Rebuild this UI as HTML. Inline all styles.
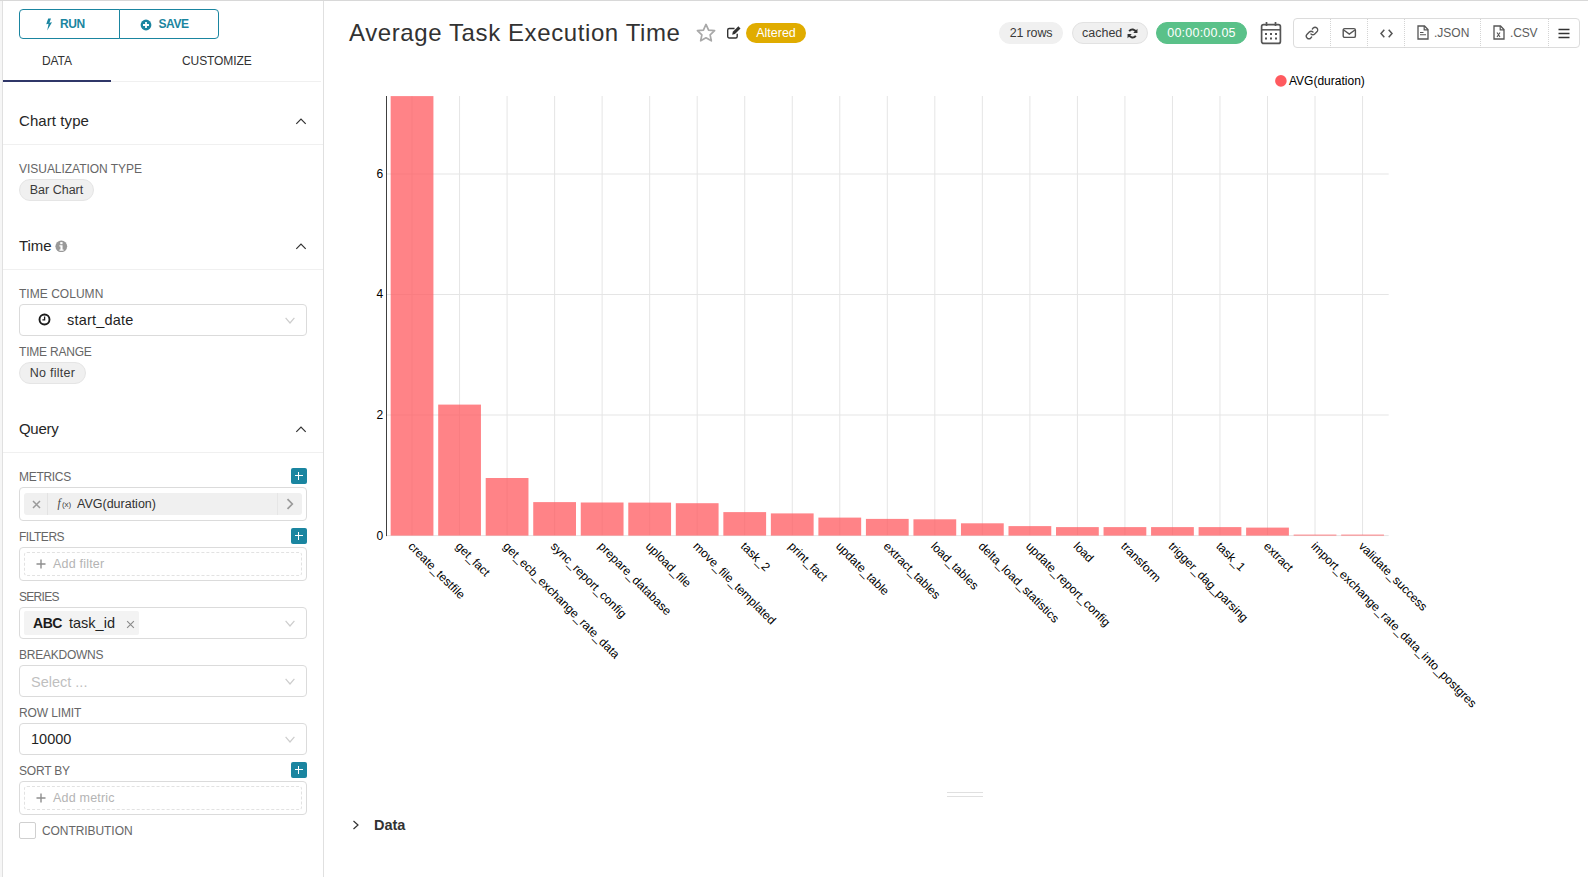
<!DOCTYPE html>
<html lang="en">
<head>
<meta charset="utf-8">
<title>Average Task Execution Time</title>
<style>
*{box-sizing:border-box;margin:0;padding:0}
html,body{width:1588px;height:877px;overflow:hidden;background:#fff}
body{font-family:"Liberation Sans",sans-serif;color:#323232;position:relative;font-size:14px}
.abs{position:absolute}
.topline{position:absolute;left:0;top:0;width:1588px;height:1px;background:#d8d8d8}
.side{position:absolute;left:2px;top:1px;width:322px;height:876px;border-left:1px solid #e0e0e0;border-right:1px solid #e0e0e0;background:#fff}
.btn{position:absolute;top:9px;height:30px;width:100px;border:1px solid #1a85a0;color:#1a85a0;font-weight:bold;font-size:12px;letter-spacing:-.4px;background:#fff}
.btn span{position:absolute;top:7px;line-height:14px}
.tab{position:absolute;top:54px;font-size:12px;color:#323232;line-height:14px;letter-spacing:-.1px}
.tabline{position:absolute;left:3px;top:81px;width:318px;height:1px;background:#f0f0f0}
.ink{position:absolute;left:3px;top:80px;width:108px;height:2px;background:#2f3668}
.sec{position:absolute;left:19px;font-size:15px;color:#262626;line-height:18px}
.secline{position:absolute;left:3px;width:320px;height:1px;background:#f0f0f0}
.lbl{position:absolute;left:19px;font-size:12px;color:#666;line-height:14px;letter-spacing:0;white-space:nowrap}
.pill{position:absolute;height:22px;border-radius:11px;background:#f0f0f0;border:1px solid #e5e5e5;font-size:12.5px;line-height:21px;color:#3a3a3a;text-align:center;white-space:nowrap}
.box{position:absolute;left:19px;width:288px;border:1px solid #dbdbdb;border-radius:4px;background:#fff}
.plus{position:absolute;left:291px;width:15.5px;height:15.5px;border-radius:2px;background:#1a85a0}
.plus:before{content:"";position:absolute;left:3.5px;top:6.75px;width:8px;height:1.5px;background:#fff}
.plus:after{content:"";position:absolute;left:6.75px;top:3.5px;width:1.5px;height:8px;background:#fff}
.chev{position:absolute;left:295px;width:12px;height:8px}
.dd{position:absolute;right:10px;top:11px;width:12px;height:9px}
.t{font-family:"Liberation Sans",Arial,sans-serif;font-size:12px;fill:#000}
.chart{position:absolute;left:0;top:0}
.hbtn{position:absolute;top:0;height:29px;border-right:1px dotted #d4d4d4}
</style>
</head>
<body>
<div class="topline"></div>
<div class="abs" style="left:0;top:1px;width:2px;height:876px;background:#f6f6f6"></div>
<div class="side"></div>

<!-- run / save -->
<div class="btn" style="left:19px;width:101px;border-radius:4px 0 0 4px;"><svg class="abs" style="left:25px;top:8px" width="8" height="13" viewBox="0 0 8 13"><path d="M3.2 0.5 L1.2 6.3 L3.6 5.7 L2.2 12.5 L7 4.2 L4.4 4.8 L6 0.5 Z" fill="#1a85a0"/></svg><span style="left:40px">RUN</span></div>
<div class="btn" style="left:119px;width:100px;border-radius:0 4px 4px 0"><svg class="abs" style="left:20px;top:9px" width="12" height="12" viewBox="0 0 12 12"><circle cx="6" cy="6" r="5.4" fill="#1a85a0"/><path d="M6 3v6M3 6h6" stroke="#fff" stroke-width="1.8"/></svg><span style="left:38.5px">SAVE</span></div>

<!-- tabs -->
<div class="tab" style="left:42px">DATA</div>
<div class="tab" style="left:182px">CUSTOMIZE</div>
<div class="tabline"></div>
<div class="ink"></div>

<!-- Chart type -->
<div class="sec" style="top:112px;letter-spacing:.08px">Chart type</div>
<svg class="chev" style="top:117px" viewBox="0 0 12 8"><path d="M1.3 6.8 L6 2 L10.7 6.8" fill="none" stroke="#323232" stroke-width="1.2"/></svg>
<div class="secline" style="top:144px"></div>
<div class="lbl" style="top:162px;letter-spacing:-0.03px">VISUALIZATION TYPE</div>
<div class="pill" style="left:19px;top:179px;width:75px">Bar Chart</div>

<!-- Time -->
<div class="sec" style="top:237px;letter-spacing:-.1px">Time</div>
<svg class="abs" style="left:55px;top:239.7px" width="12.6" height="12.6" viewBox="0 0 12 12"><circle cx="6" cy="6" r="5.6" fill="#999"/><rect x="5" y="2" width="2.2" height="2" fill="#fff"/><path d="M4.2 5h3v4h1v1.2H4.2V9h1V6.2h-1z" fill="#fff"/></svg>
<svg class="chev" style="top:242px" viewBox="0 0 12 8"><path d="M1.3 6.8 L6 2 L10.7 6.8" fill="none" stroke="#323232" stroke-width="1.2"/></svg>
<div class="secline" style="top:269px"></div>
<div class="lbl" style="top:287px;letter-spacing:0.03px">TIME COLUMN</div>
<div class="box" style="top:304px;height:32px">
  <svg class="abs" style="left:18.2px;top:8.3px" width="13" height="13" viewBox="0 0 13 13"><circle cx="6.5" cy="6.5" r="5" fill="none" stroke="#1b1b1b" stroke-width="1.9"/><path d="M6.6 3.6v3.2H4.4" fill="none" stroke="#1b1b1b" stroke-width="1.3"/></svg>
  <span class="abs" style="left:47px;top:7px;font-size:14.5px;line-height:17px;color:#1f1f1f;letter-spacing:.2px">start_date</span>
  <svg class="dd" viewBox="0 0 12 9"><path d="M1.6 1.8 L6 7 L10.4 1.8" fill="none" stroke="#cdcdcd" stroke-width="1.2"/></svg>
</div>
<div class="lbl" style="top:345px;letter-spacing:-0.2px">TIME RANGE</div>
<div class="pill" style="left:19px;top:362px;width:67px;letter-spacing:.25px">No filter</div>

<!-- Query -->
<div class="sec" style="top:420px;letter-spacing:-.3px">Query</div>
<svg class="chev" style="top:425px" viewBox="0 0 12 8"><path d="M1.3 6.8 L6 2 L10.7 6.8" fill="none" stroke="#323232" stroke-width="1.2"/></svg>
<div class="secline" style="top:452px"></div>

<div class="lbl" style="top:470px;letter-spacing:-0.3px">METRICS</div>
<div class="plus" style="top:468px"></div>
<div class="box" style="top:487px;height:34px">
  <div class="abs" style="left:4px;top:5px;width:278px;height:22px;background:#f0f0f0;border-radius:3px"></div>
  <div class="abs" style="left:27px;top:5px;width:1px;height:22px;background:#e3e3e3"></div>
  <div class="abs" style="left:257px;top:5px;width:1px;height:22px;background:#e6e6e6"></div>
  <svg class="abs" style="left:12px;top:12px" width="9" height="9" viewBox="0 0 9 9"><path d="M1 1L8 8M8 1L1 8" stroke="#9a9a9a" stroke-width="1.5"/></svg>
  <span class="abs" style="left:37.5px;top:9px;font-size:11.5px;line-height:12px;color:#444;font-style:italic;font-family:'Liberation Serif',serif">f</span>
  <span class="abs" style="left:42px;top:11.5px;font-size:8px;line-height:9px;color:#444;letter-spacing:-.1px">(x)</span>
  <span class="abs" style="left:57px;top:9px;font-size:12.5px;line-height:15px;color:#323232">AVG(duration)</span>
  <svg class="abs" style="left:266px;top:10px" width="8" height="12" viewBox="0 0 8 12"><path d="M1.5 1.2L6.3 6L1.5 10.8" fill="none" stroke="#9a9a9a" stroke-width="1.7"/></svg>
</div>

<div class="lbl" style="top:530px;letter-spacing:-0.48px">FILTERS</div>
<div class="plus" style="top:528px"></div>
<div class="box" style="top:547px;height:34px">
  <div class="abs" style="left:4px;top:4px;width:278px;height:24px;border:1px dashed #e2e2e2;border-radius:3px"></div>
  <svg class="abs" style="left:16px;top:11px" width="10" height="10" viewBox="0 0 10 10"><path d="M5 0.5v9M0.5 5h9" stroke="#8e8e8e" stroke-width="1.4"/></svg>
  <span class="abs" style="left:33px;top:9px;font-size:12.5px;line-height:15px;color:#b4b4b4;letter-spacing:.2px">Add filter</span>
</div>

<div class="lbl" style="top:590px;letter-spacing:-0.7px">SERIES</div>
<div class="box" style="top:607px;height:32px">
  <div class="abs" style="left:4px;top:3px;width:115px;height:24px;background:#f3f3f3;border-radius:2px"></div>
  <span class="abs" style="left:13px;top:7px;font-size:14px;line-height:17px;color:#1b1b1b;font-weight:bold;letter-spacing:-.45px">ABC</span>
  <span class="abs" style="left:49px;top:7px;font-size:14.5px;line-height:17px;color:#1f1f1f">task_id</span>
  <svg class="abs" style="left:105.5px;top:11.5px" width="9" height="9" viewBox="0 0 8 8"><path d="M1 1L7 7M7 1L1 7" stroke="#8a8a8a" stroke-width="1"/></svg>
  <svg class="dd" viewBox="0 0 12 9"><path d="M1.6 1.8 L6 7 L10.4 1.8" fill="none" stroke="#cdcdcd" stroke-width="1.2"/></svg>
</div>

<div class="lbl" style="top:648px;letter-spacing:-0.24px">BREAKDOWNS</div>
<div class="box" style="top:665px;height:32px">
  <span class="abs" style="left:11px;top:8px;font-size:14.5px;line-height:17px;color:#bfbfbf">Select ...</span>
  <svg class="dd" viewBox="0 0 12 9"><path d="M1.6 1.8 L6 7 L10.4 1.8" fill="none" stroke="#cdcdcd" stroke-width="1.2"/></svg>
</div>

<div class="lbl" style="top:706px;letter-spacing:-0.13px">ROW LIMIT</div>
<div class="box" style="top:723px;height:32px">
  <span class="abs" style="left:11px;top:7px;font-size:14.5px;line-height:17px;color:#1f1f1f">10000</span>
  <svg class="dd" viewBox="0 0 12 9"><path d="M1.6 1.8 L6 7 L10.4 1.8" fill="none" stroke="#cdcdcd" stroke-width="1.2"/></svg>
</div>

<div class="lbl" style="top:764px;letter-spacing:-0.2px">SORT BY</div>
<div class="plus" style="top:762px"></div>
<div class="box" style="top:781px;height:34px">
  <div class="abs" style="left:4px;top:4px;width:278px;height:24px;border:1px dashed #e2e2e2;border-radius:3px"></div>
  <svg class="abs" style="left:16px;top:11px" width="10" height="10" viewBox="0 0 10 10"><path d="M5 0.5v9M0.5 5h9" stroke="#8e8e8e" stroke-width="1.4"/></svg>
  <span class="abs" style="left:33px;top:9px;font-size:12.5px;line-height:15px;color:#b4b4b4;letter-spacing:.2px">Add metric</span>
</div>

<div class="abs" style="left:19px;top:822px;width:17px;height:17px;border:1px solid #d0d0d0;border-radius:2px;background:#fff"></div>
<div class="lbl" style="left:42px;top:824px;letter-spacing:-0.07px">CONTRIBUTION</div>

<!-- header -->
<div class="abs" style="left:349px;top:17.8px;font-size:24px;line-height:30px;color:#323232;white-space:nowrap;letter-spacing:.6px">Average Task Execution Time</div>
<svg class="abs" style="left:695px;top:22px" width="22" height="22" viewBox="0 0 20 20"><path d="M10 2.2l2.35 5.1 5.45.6-4.05 3.75 1.1 5.45L10 14.35 5.15 17.1l1.1-5.45L2.2 7.9l5.45-.6z" fill="none" stroke="#a8a8a8" stroke-width="1.55" stroke-linejoin="round"/></svg>
<svg class="abs" style="left:725.6px;top:25.2px" width="16" height="15" viewBox="0 0 15 14"><path d="M10.5 8.2v2.6a1.4 1.4 0 0 1-1.4 1.4H3a1.4 1.4 0 0 1-1.4-1.4V4.7A1.4 1.4 0 0 1 3 3.3h5" fill="none" stroke="#323232" stroke-width="1.3"/><path d="M11.6 1.2l2 2-5.2 5.2-2.6.6.6-2.6z" fill="#323232"/></svg>
<div class="pill" style="left:746px;top:23px;width:60px;height:20px;border:0;line-height:21px;background:#e0ac00;color:#fff;font-size:12.5px">Altered</div>

<div class="pill" style="left:999px;top:22px;width:64px;border-color:#f0f0f0;letter-spacing:-.15px">21 rows</div>
<div class="pill" style="left:1072px;top:22px;width:76px;border-color:#e2e2e2;text-align:left;padding-left:9px">cached<svg class="abs" style="left:54px;top:5px" width="11" height="11" viewBox="0 0 12 12"><path d="M10 4.8A4.2 4.2 0 0 0 2.4 3.6M2 7.2a4.2 4.2 0 0 0 7.6 1.2" fill="none" stroke="#323232" stroke-width="2.1"/><path d="M11.4 0.8v4.6H6.8zM0.6 11.2V6.6h4.6z" fill="#323232"/></svg></div>
<div class="pill" style="left:1156px;top:22px;width:91px;background:#5ac189;border-color:#5ac189;color:#fff;font-size:12.5px;letter-spacing:.22px">00:00:00.05</div>

<!-- calendar -->
<svg class="abs" style="left:1260px;top:21px" width="22" height="24" viewBox="0 0 22 24"><rect x="1.6" y="3.6" width="18.8" height="18.8" rx="2" fill="none" stroke="#555" stroke-width="1.7"/><path d="M1.6 8.8h18.8" stroke="#555" stroke-width="1.5"/><path d="M6.5 1v4M15.5 1v4" stroke="#555" stroke-width="1.7"/><g fill="#555"><rect x="5" y="12" width="2" height="2"/><rect x="10" y="12" width="2" height="2"/><rect x="15" y="12" width="2" height="2"/><rect x="5" y="16.5" width="2" height="2"/><rect x="10" y="16.5" width="2" height="2"/><rect x="15" y="16.5" width="2" height="2"/></g></svg>

<!-- button group -->
<div class="abs" style="left:1293px;top:18px;width:287px;height:30px;border:1px solid #dcdcdc;border-radius:4px;background:#fff;font-size:12.5px;color:#5c5c5c">
  <div class="hbtn" style="left:0;width:37px"><svg class="abs" style="left:11px;top:7px" width="14" height="14" viewBox="0 0 14 14"><g fill="none" stroke="#555" stroke-width="1.4" stroke-linecap="round"><path d="M6 8a2.6 2.6 0 0 0 3.7 0l2.2-2.2a2.6 2.6 0 0 0-3.7-3.7L7.4 2.9"/><path d="M8 6a2.6 2.6 0 0 0-3.7 0L2.1 8.2a2.6 2.6 0 0 0 3.7 3.7l.8-.8"/></g></svg></div>
  <div class="hbtn" style="left:37px;width:37px"><svg class="abs" style="left:11px;top:8px" width="15" height="12" viewBox="0 0 15 12"><rect x="1.2" y="1.6" width="12.2" height="8.8" rx="1.5" fill="none" stroke="#555" stroke-width="1.4"/><path d="M1.7 3l5.6 4.1L12.9 3" fill="none" stroke="#555" stroke-width="1.4"/></svg></div>
  <div class="hbtn" style="left:74px;width:37px"><svg class="abs" style="left:12px;top:10px" width="13" height="9" viewBox="0 0 13 9"><path d="M4.3 0.8L1 4.5l3.3 3.7M8.7 0.8L12 4.5 8.7 8.2" fill="none" stroke="#555" stroke-width="1.5"/></svg></div>
  <div class="hbtn" style="left:111px;width:76px"><svg class="abs" style="left:11.5px;top:5.5px" width="12" height="15" viewBox="0 0 12 15"><path d="M1 1h6.5L11 4.5V14H1z" fill="none" stroke="#555" stroke-width="1.3"/><path d="M7.2 1v3.8H11" fill="none" stroke="#555" stroke-width="1.2"/><path d="M3 7.5h3.5M3 9.8h6" stroke="#555" stroke-width="1.1"/></svg><span class="abs" style="left:29px;top:7px;line-height:15px;font-size:12px">.JSON</span></div>
  <div class="hbtn" style="left:187px;width:68px"><svg class="abs" style="left:11.5px;top:5.5px" width="12" height="15" viewBox="0 0 12 15"><path d="M1 1h6.5L11 4.5V14H1z" fill="none" stroke="#555" stroke-width="1.3"/><path d="M7.2 1v3.8H11" fill="none" stroke="#555" stroke-width="1.2"/><path d="M4 7.5l3 4.5M7 7.5l-3 4.5" stroke="#555" stroke-width="1.1"/></svg><span class="abs" style="left:29px;top:7px;line-height:15px;font-size:12px;letter-spacing:-.15px">.CSV</span></div>
  <svg class="abs" style="left:264px;top:9px" width="12" height="11" viewBox="0 0 12 11"><path d="M0.5 1.5h11M0.5 5.5h11M0.5 9.5h11" stroke="#323232" stroke-width="1.7"/></svg>
</div>

<svg class="chart" width="1588" height="877" viewBox="0 0 1588 877">
<line x1="386.7" x2="1388.6999999999998" y1="174.0" y2="174.0" stroke="#e5e5e5" stroke-width="1"/>
<line x1="386.7" x2="1388.6999999999998" y1="294.5" y2="294.5" stroke="#e5e5e5" stroke-width="1"/>
<line x1="386.7" x2="1388.6999999999998" y1="415.0" y2="415.0" stroke="#e5e5e5" stroke-width="1"/>
<line x1="386.7" x2="1388.6999999999998" y1="535.6" y2="535.6" stroke="#e5e5e5" stroke-width="1"/>
<line x1="412.04" x2="412.04" y1="96" y2="535.6" stroke="#e5e5e5" stroke-width="1"/>
<line x1="459.57" x2="459.57" y1="96" y2="535.6" stroke="#e5e5e5" stroke-width="1"/>
<line x1="507.09" x2="507.09" y1="96" y2="535.6" stroke="#e5e5e5" stroke-width="1"/>
<line x1="554.62" x2="554.62" y1="96" y2="535.6" stroke="#e5e5e5" stroke-width="1"/>
<line x1="602.14" x2="602.14" y1="96" y2="535.6" stroke="#e5e5e5" stroke-width="1"/>
<line x1="649.67" x2="649.67" y1="96" y2="535.6" stroke="#e5e5e5" stroke-width="1"/>
<line x1="697.20" x2="697.20" y1="96" y2="535.6" stroke="#e5e5e5" stroke-width="1"/>
<line x1="744.72" x2="744.72" y1="96" y2="535.6" stroke="#e5e5e5" stroke-width="1"/>
<line x1="792.25" x2="792.25" y1="96" y2="535.6" stroke="#e5e5e5" stroke-width="1"/>
<line x1="839.77" x2="839.77" y1="96" y2="535.6" stroke="#e5e5e5" stroke-width="1"/>
<line x1="887.30" x2="887.30" y1="96" y2="535.6" stroke="#e5e5e5" stroke-width="1"/>
<line x1="934.83" x2="934.83" y1="96" y2="535.6" stroke="#e5e5e5" stroke-width="1"/>
<line x1="982.35" x2="982.35" y1="96" y2="535.6" stroke="#e5e5e5" stroke-width="1"/>
<line x1="1029.88" x2="1029.88" y1="96" y2="535.6" stroke="#e5e5e5" stroke-width="1"/>
<line x1="1077.40" x2="1077.40" y1="96" y2="535.6" stroke="#e5e5e5" stroke-width="1"/>
<line x1="1124.93" x2="1124.93" y1="96" y2="535.6" stroke="#e5e5e5" stroke-width="1"/>
<line x1="1172.46" x2="1172.46" y1="96" y2="535.6" stroke="#e5e5e5" stroke-width="1"/>
<line x1="1219.98" x2="1219.98" y1="96" y2="535.6" stroke="#e5e5e5" stroke-width="1"/>
<line x1="1267.51" x2="1267.51" y1="96" y2="535.6" stroke="#e5e5e5" stroke-width="1"/>
<line x1="1315.03" x2="1315.03" y1="96" y2="535.6" stroke="#e5e5e5" stroke-width="1"/>
<line x1="1362.56" x2="1362.56" y1="96" y2="535.6" stroke="#e5e5e5" stroke-width="1"/>
<line x1="386.5" x2="386.5" y1="96" y2="536.1" stroke="#000" stroke-opacity="0.75" stroke-width="1"/>
<text x="383.2" y="178" text-anchor="end" class="t">6</text>
<text x="383.2" y="298" text-anchor="end" class="t">4</text>
<text x="383.2" y="419" text-anchor="end" class="t">2</text>
<text x="383.2" y="540" text-anchor="end" class="t">0</text>
<rect x="390.65" y="96.10" width="42.77" height="439.50" fill="#ff5a5f" fill-opacity="0.75"/>
<rect x="438.18" y="404.60" width="42.77" height="131.00" fill="#ff5a5f" fill-opacity="0.75"/>
<rect x="485.70" y="478.00" width="42.77" height="57.60" fill="#ff5a5f" fill-opacity="0.75"/>
<rect x="533.23" y="502.10" width="42.77" height="33.50" fill="#ff5a5f" fill-opacity="0.75"/>
<rect x="580.76" y="502.50" width="42.77" height="33.10" fill="#ff5a5f" fill-opacity="0.75"/>
<rect x="628.28" y="502.60" width="42.77" height="33.00" fill="#ff5a5f" fill-opacity="0.75"/>
<rect x="675.81" y="503.20" width="42.77" height="32.40" fill="#ff5a5f" fill-opacity="0.75"/>
<rect x="723.34" y="512.10" width="42.77" height="23.50" fill="#ff5a5f" fill-opacity="0.75"/>
<rect x="770.86" y="513.40" width="42.77" height="22.20" fill="#ff5a5f" fill-opacity="0.75"/>
<rect x="818.39" y="517.60" width="42.77" height="18.00" fill="#ff5a5f" fill-opacity="0.75"/>
<rect x="865.91" y="518.90" width="42.77" height="16.70" fill="#ff5a5f" fill-opacity="0.75"/>
<rect x="913.44" y="519.30" width="42.77" height="16.30" fill="#ff5a5f" fill-opacity="0.75"/>
<rect x="960.97" y="523.30" width="42.77" height="12.30" fill="#ff5a5f" fill-opacity="0.75"/>
<rect x="1008.49" y="526.10" width="42.77" height="9.50" fill="#ff5a5f" fill-opacity="0.75"/>
<rect x="1056.02" y="527.10" width="42.77" height="8.50" fill="#ff5a5f" fill-opacity="0.75"/>
<rect x="1103.54" y="527.10" width="42.77" height="8.50" fill="#ff5a5f" fill-opacity="0.75"/>
<rect x="1151.07" y="527.10" width="42.77" height="8.50" fill="#ff5a5f" fill-opacity="0.75"/>
<rect x="1198.60" y="527.10" width="42.77" height="8.50" fill="#ff5a5f" fill-opacity="0.75"/>
<rect x="1246.12" y="527.60" width="42.77" height="8.00" fill="#ff5a5f" fill-opacity="0.75"/>
<rect x="1293.65" y="534.60" width="42.77" height="1.00" fill="#ff5a5f" fill-opacity="0.75"/>
<rect x="1341.17" y="534.60" width="42.77" height="1.00" fill="#ff5a5f" fill-opacity="0.75"/>
<text class="t" transform="translate(407.44,547.00) rotate(45)" x="0" y="0">create_testfile</text>
<text class="t" transform="translate(454.97,547.00) rotate(45)" x="0" y="0">get_fact</text>
<text class="t" transform="translate(502.49,547.00) rotate(45)" x="0" y="0">get_ecb_exchange_rate_data</text>
<text class="t" transform="translate(550.02,547.00) rotate(45)" x="0" y="0">sync_report_config</text>
<text class="t" transform="translate(597.54,547.00) rotate(45)" x="0" y="0">prepare_database</text>
<text class="t" transform="translate(645.07,547.00) rotate(45)" x="0" y="0">upload_file</text>
<text class="t" transform="translate(692.60,547.00) rotate(45)" x="0" y="0">move_file_templated</text>
<text class="t" transform="translate(740.12,547.00) rotate(45)" x="0" y="0">task_2</text>
<text class="t" transform="translate(787.65,547.00) rotate(45)" x="0" y="0">print_fact</text>
<text class="t" transform="translate(835.17,547.00) rotate(45)" x="0" y="0">update_table</text>
<text class="t" transform="translate(882.70,547.00) rotate(45)" x="0" y="0">extract_tables</text>
<text class="t" transform="translate(930.23,547.00) rotate(45)" x="0" y="0">load_tables</text>
<text class="t" transform="translate(977.75,547.00) rotate(45)" x="0" y="0">delta_load_statistics</text>
<text class="t" transform="translate(1025.28,547.00) rotate(45)" x="0" y="0">update_report_config</text>
<text class="t" transform="translate(1072.80,547.00) rotate(45)" x="0" y="0">load</text>
<text class="t" transform="translate(1120.33,547.00) rotate(45)" x="0" y="0">transform</text>
<text class="t" transform="translate(1167.86,547.00) rotate(45)" x="0" y="0">trigger_dag_parsing</text>
<text class="t" transform="translate(1215.38,547.00) rotate(45)" x="0" y="0">task_1</text>
<text class="t" transform="translate(1262.91,547.00) rotate(45)" x="0" y="0">extract</text>
<text class="t" transform="translate(1310.43,547.00) rotate(45)" x="0" y="0">import_exchange_rate_data_into_postgres</text>
<text class="t" transform="translate(1357.96,547.00) rotate(45)" x="0" y="0">validate_success</text>
<circle cx="1280.9" cy="80.9" r="4.9" fill="#ff5a5f" stroke="#ff5a5f" stroke-width="1.8"/>
<text class="t" x="1289" y="85">AVG(duration)</text>
</svg>

<!-- resize handle -->
<div class="abs" style="left:947px;top:792px;width:36px;height:1px;background:#e0e0e0"></div>
<div class="abs" style="left:947px;top:796px;width:36px;height:1px;background:#e0e0e0"></div>

<!-- Data collapse -->
<svg class="abs" style="left:352px;top:819px" width="8" height="12" viewBox="0 0 8 12"><path d="M1.5 2L6 6L1.5 10" fill="none" stroke="#323232" stroke-width="1.2"/></svg>
<div class="abs" style="left:374px;top:816px;font-size:14.5px;line-height:18px;font-weight:bold;color:#323232">Data</div>
</body>
</html>
